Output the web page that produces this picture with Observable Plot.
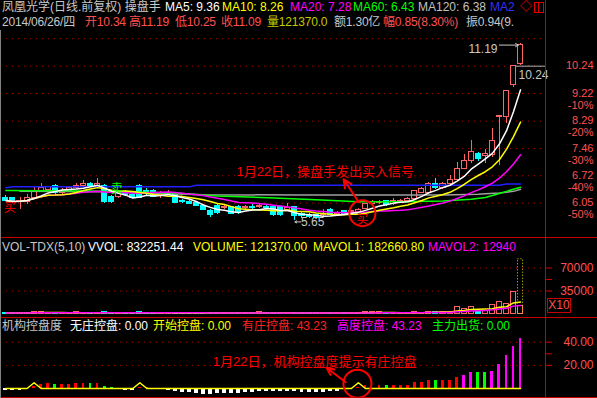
<!DOCTYPE html>
<html><head><meta charset="utf-8">
<script src="https://cdn.jsdelivr.net/npm/d3@7"></script>
<script src="https://cdn.jsdelivr.net/npm/@observablehq/plot@0.6"></script>
<style>
html,body{margin:0;padding:0;background:#000;}
#chart{position:relative;width:597px;height:398px;background:#000;overflow:hidden;font-family:'Liberation Sans','Noto Sans CJK SC',sans-serif;font-size:12px;}
#chart svg{position:absolute;left:0;}
.t{position:absolute;white-space:nowrap;line-height:14px;}
.hl{position:absolute;height:1px;left:0;width:597px;background:#c80000;}
.vl{position:absolute;width:1px;}
</style></head><body><div id="chart"></div><script>
// ---------- data ----------
const opens  = [6.18,6.16,6.08,6.07,6.18,6.35,6.37,6.47,6.28,6.33, 6.40,6.47,6.52,6.45,6.45,6.20,6.20,6.30,6.25,6.45, 6.33,6.35,6.25,6.28,6.25,6.09,6.07,6.05,5.99,5.88, 5.99,5.93,5.95,5.95,5.93,5.97,5.95,5.97,5.97,5.95, 5.90,5.95,5.81,5.79,5.77,5.77,5.90,5.80,5.86,5.84, 5.84,5.92,6.02,6.05,6.09,6.02,6.07,6.09,6.14,6.30, 6.30,6.50,6.40,6.50,6.60,6.91,7.10,7.32,7.25,7.27, 8.42,8.41,9.54,10.34];
const highs  = [6.22,6.18,6.18,6.25,6.42,6.52,6.45,6.50,6.40,6.45, 6.52,6.60,6.55,6.65,6.50,6.22,6.33,6.35,6.30,6.50, 6.40,6.38,6.33,6.35,6.28,6.14,6.11,6.07,6.01,5.90, 6.01,5.99,5.97,5.99,5.99,6.01,6.05,6.01,5.99,5.97, 6.03,5.97,5.84,5.82,5.79,5.90,5.92,5.86,5.88,5.88, 5.93,6.05,6.12,6.11,6.12,6.16,6.14,6.18,6.35,6.42, 6.55,6.65,6.55,6.72,7.06,7.30,7.69,7.35,7.44,8.06, 8.46,9.31,10.24,11.19];
const lows   = [6.09,6.05,5.90,6.01,6.16,6.30,6.33,6.26,6.25,6.30, 6.38,6.45,6.45,6.43,6.05,6.05,6.16,6.20,6.16,6.16, 6.20,6.18,6.16,6.22,6.03,6.03,6.01,5.97,5.88,5.73, 5.79,5.90,5.79,5.79,5.90,5.90,5.93,5.90,5.75,5.75, 5.86,5.65,5.70,5.70,5.70,5.72,5.77,5.76,5.79,5.80, 5.82,5.90,5.99,6.01,5.97,6.00,6.05,6.07,6.12,6.28, 6.28,6.38,6.38,6.48,6.58,6.88,7.05,7.10,7.04,7.22, 6.99,8.22,9.42,10.25];
const closes = [6.11,6.07,6.10,6.16,6.35,6.42,6.43,6.28,6.33,6.42, 6.47,6.52,6.47,6.52,6.07,6.07,6.30,6.23,6.18,6.18, 6.30,6.20,6.28,6.30,6.05,6.07,6.03,5.99,5.90,5.77, 5.82,5.95,5.81,5.82,5.95,5.93,5.99,5.93,5.77,5.77, 5.93,5.75,5.75,5.73,5.71,5.81,5.79,5.83,5.81,5.86, 5.90,6.02,6.07,6.07,6.00,6.09,6.11,6.14,6.33,6.38, 6.52,6.40,6.50,6.60,6.91,7.10,7.35,7.18,7.32,7.67, 8.44,9.31,10.24,11.09];
// volume in axis units (x10 shares)
const volumes = [1500,1400,1600,1800,3800,2400,1800,1600,1500,1800, 2400,1900,1500,2000,2500,1700,1500,1400,1500,3800, 2000,1700,1400,1500,1900,1400,1300,1400,1600,1900, 1500,1400,1700,1500,1300,1400,2400,1400,2000,1600, 1400,1900,1600,1400,1300,1500,1600,1400,1500,1600, 1900,2400,2300,2400,1900,1700,1800,1900,2400,2000, 3800,3800,2400,2600,10500,7200,10800,4600,4963,13000, 17600,15000,33600,12137];
const vvolLast = 83225.144;
// long moving averages (index, value)
const ma60Idx = [0,12,24,30,38,44,50,56,62,66,68,70,71,72,73];
const ma60Val = [6.35,6.34,6.29,6.22,6.17,6.13,6.08,6.08,6.10,6.14,6.18,6.28,6.33,6.38,6.43];
const ma120Idx = [2,14,28,42,62,67,68,70,71,72,73];
const ma120Val = [6.33,6.32,6.25,6.24,6.24,6.26,6.27,6.29,6.31,6.33,6.38];
const ma250Idx = [0,1,26,27,70,71,73];
const ma250Val = [6.42,6.44,6.44,6.48,6.48,6.51,6.51];
// 机构控盘度
const ctrlValues = [-1.5,-1.5,-1.5,0,1.7,3.5,4.0,3.5,3.5,3.5, 4.6,4.6,4.6,4.6,1.7,1.0,0,-1.5,-1.5,0.8, 1.0,0,0,-2.0,-2.6,-3.2,-3.2,-4.6,-5.2,-5.2, -4.6,-4.0,-4.0,-4.0,-3.5,-3.2,-2.6,-2.9,-2.9,-2.6, -2.3,-2.6,-3.5,-3.5,-3.2,-3.5,-2.6,-2.6,-1.0,0, 0.8,2.2,0,3.0,3.0,3.0,3.0,3.0,5.0,5.6, 6.5,6.5,6.5,7.3,9.3,10.8,13.7,13.7,13.7,15.1, 20.9,28.1,35.9,43.23];
const ctrlCodes = "WWW-RRRGRRRRGRGG-WWRR--" + "WWWWWWWWWWWWWWWWWWWWWWWWWW" + "-RR-RGRRRRRRGRRRMMGGMMMMM";
const ctrlNames = {W: "无庄控盘", Y: "开始控盘", R: "有庄控盘", M: "高度控盘", G: "主力出货", "-": ""};
const startLine = [0,0,0,0,5,0,0,0,0,0, 0,0,0,0,0,0,0,0,0,5, 0,0,0,0,0,0,0,0,0,0, 0,0,0,0,0,0,0,0,0,0, 0,0,0,0,0,0,0,0,0,0, 5,0,0,0,0,0,0,0,0,0, 0,0,0,0,0,0,0,0,0,0, 0,0,0,0];
// signals
const buyIdx = [0, 50];
const sellIdx = [16];
// axis ticks / labels
const gridPrices = [11.38,10.24,9.22,8.29,7.46,6.72,6.05];
const priceTicks = [10.24,9.22,8.29,7.46,6.72,6.05];
const pctTicks = [9.22,8.29,7.46,6.72,6.05];
const pctLabels = ["-10%","-20%","-30%","-40%","-50%"];
const volGrid = [35000,70000];
const volTicks = [35000,52500,70000];
const ctrlGrid = [20,40];
const ctrlTicks = [20,30,40];
// texts
const head1 = ["凤凰光学(日线.前复权) 操盘手","MA5: 9.36","MA10: 8.26","MA20: 7.28","MA60: 6.43","MA120: 6.38","MA2"];
const head2 = ["2014/06/26/四","开10.34","高11.19","低10.25","收11.09","量121370.0","额1.30亿","幅0.85(8.30%)","振0.94(9."];
const volHead = ["VOL-TDX(5,10)","VVOL: 832251.44","VOLUME: 121370.00","MAVOL1: 182660.80","MAVOL2: 12940"];
const ctrlHead = ["机构控盘度","无庄控盘: 0.00","开始控盘: 0.00","有庄控盘: 43.23","高度控盘: 43.23","主力出货: 0.00"];
const buyNote = {idx: 50, text: "1月22日，操盘手发出买入信号", textAt: [45.3, 6.81], from: [50.06, 6.07], to: [47.9, 6.63]};
const ctrlNote = {idx: 50, text: "1月22日，机构控盘度提示有庄控盘", textAt: [43.8, 23.3], from: [48.2, 5.4], to: [45.5, 17.9]};

// ---------- styles ----------
const FONT = "'Liberation Sans','Noto Sans CJK SC',sans-serif";
const RED = "#ff6464", CYAN = "#00ffff", GRID = "#b40000", AXIS = "#ff5050", TICK = "#d00000";
const typeColor = {"无庄控盘": "#ffffff", "开始控盘": "#ffff00", "有庄控盘": "#ff0000", "高度控盘": "#ff00ff", "主力出货": "#00ff00"};

const chart = document.getElementById("chart");
const N = closes.length;
const idx = d3.range(N);
const candles = idx.map(i => ({i, open: opens[i], high: highs[i], low: lows[i], close: closes[i], vol: volumes[i]}));
const up = d => d.close >= d.open;
const maOf = (arr, n) => arr.map((_, i) => ({i, v: d3.mean(arr.slice(Math.max(0, i - n + 1), i + 1))}));
const pts = (ix, vs) => ix.map((i, k) => ({i, v: vs[k]}));
const X = {domain: [-0.766, 76.54], axis: null};
const base = {width: 597, marginLeft: 0, marginRight: 52, marginTop: 0, marginBottom: 0, x: X,
  style: {background: "transparent", color: AXIS, fontFamily: FONT, fontSize: "12px", overflow: "visible"}};
const dotted = {stroke: GRID, strokeDasharray: "1,5"};

// ---------- main price panel ----------
const hi = d3.greatest(candles, d => d.high);
const lo = d3.least(candles, d => d.low);
const pctMap = new Map(pctTicks.map((t, k) => [t, pctLabels[k]]));
const mainPlot = Plot.plot({...base, height: 237,
  y: {type: "log", domain: [5.3012, 13.18], axis: null},
  marks: [
    Plot.ruleY(gridPrices, dotted),
    Plot.axisY({ticks: priceTicks, anchor: "right", label: null, tickSize: 0, tickPadding: 48, textAnchor: "end", fontSize: 11, dy: -0.5, tickFormat: d => d.toFixed(2), fill: AXIS}),
    Plot.axisY({ticks: pctTicks, anchor: "right", label: null, tickSize: 0, tickPadding: 48, textAnchor: "end", fontSize: 11, dy: 11.5, tickFormat: d => pctMap.get(d), fill: AXIS}),
    Plot.ruleY([candles[72]], {y: "close", x1: d => d.i + 0.3, x2: X.domain[1], stroke: "#b0b0b0"}),
    Plot.ruleX(candles, {x: "i", y1: "low", y2: "high", stroke: d => up(d) ? RED : CYAN, shapeRendering: "crispEdges"}),
    Plot.rect(candles, {x1: d => d.i - 0.36, x2: d => d.i + 0.36, y1: "open", y2: "close",
      fill: d => up(d) ? "#000" : CYAN, stroke: d => up(d) ? RED : CYAN, shapeRendering: "crispEdges"}),
    Plot.line(pts(ma250Idx, ma250Val), {x: "i", y: "v", stroke: "#2020ff"}),
    Plot.line(pts(ma120Idx, ma120Val), {x: "i", y: "v", stroke: "#a0a0a0"}),
    Plot.line(pts(ma60Idx, ma60Val), {x: "i", y: "v", stroke: "#00ff00"}),
    Plot.line(maOf(closes, 20), {x: "i", y: "v", stroke: "#ff00ff"}),
    Plot.line(maOf(closes, 10), {x: "i", y: "v", stroke: "#ffff00"}),
    Plot.line(maOf(closes, 5), {x: "i", y: "v", stroke: "#ffffff"}),
    // high / low / last labels
    Plot.text([hi], {x: "i", y: "high", text: d => d.high.toFixed(2), textAnchor: "end", dx: -23, dy: 6, fill: "#c8c8c8"}),
    Plot.arrow([hi], {x1: d => d.i - 3, x2: d => d.i - 0.3, y1: "high", y2: "high", dy: 2, stroke: "#c8c8c8", headLength: 5, strokeWidth: 1}),
    Plot.text([candles[72]], {x: "i", y: "close", text: d => d.close.toFixed(2), textAnchor: "start", dx: 5, dy: 9, fill: "#c8c8c8"}),
    Plot.text([lo], {x: "i", y: "low", text: d => d.low.toFixed(2), textAnchor: "start", dx: 6, dy: 1, fill: "#c8c8c8"}),
    Plot.arrow([lo], {x1: d => d.i + 0.85, x2: "i", y1: "low", y2: "low", dy: 1, stroke: "#c8c8c8", headLength: 4, strokeWidth: 1}),
    // signals
    Plot.text(buyIdx.map(i => candles[i]), {x: "i", y: "low", text: () => "买", dx: 4, dy: 6.5, fill: "#ff0000"}),
    Plot.text(sellIdx.map(i => candles[i]), {x: "i", y: "high", text: () => "卖", dx: -2, dy: -2, fill: "#00ff00"}),
    Plot.dot([candles[buyNote.idx]], {x: "i", y: "low", dx: 4, r: 13, stroke: "#ff0000", strokeWidth: 2, fill: "none"}),
    Plot.arrow([buyNote], {x1: d => d.from[0], y1: d => d.from[1], x2: d => d.to[0], y2: d => d.to[1], stroke: "#ff0000", strokeWidth: 2, headLength: 9, headAngle: 50}),
    Plot.text([buyNote], {x: d => d.textAt[0], y: d => d.textAt[1], text: "text", fill: "#ff0000", fontSize: 13})
  ]});
mainPlot.style.top = "0px";
chart.appendChild(mainPlot);

// ---------- volume panel ----------
const volPlot = Plot.plot({...base, height: 79, marginBottom: 3.5,
  y: {domain: [0, 114891], axis: null},
  marks: [
    Plot.ruleY(volGrid, dotted),
    Plot.axisY({ticks: volTicks, anchor: "right", label: null, tickSize: 6, tickPadding: 42, textAnchor: "end", stroke: TICK, fill: AXIS,
      tickFormat: d => volGrid.includes(d) ? String(d) : ""}),
    Plot.rect(candles, {x1: d => d.i - 0.36, x2: d => d.i + 0.36, y1: 0, y2: "vol",
      fill: d => up(d) ? "#000" : CYAN, stroke: d => up(d) ? RED : CYAN, shapeRendering: "crispEdges"}),
    Plot.rect([{i: N - 1, v: vvolLast}], {x1: d => d.i - 0.36, x2: d => d.i + 0.36, y1: 0, y2: "v", fill: "none", stroke: "#e0e000", strokeDasharray: "1,2"}),
    Plot.line(maOf(volumes, 5), {x: "i", y: "v", stroke: "#ffff00"}),
    Plot.line(maOf(volumes, 10), {x: "i", y: "v", stroke: "#ff00ff"})
  ]});
volPlot.style.top = "238px";
chart.appendChild(volPlot);

// ---------- 机构控盘度 panel ----------
const ctrlData = idx.map(i => ({i, v: ctrlValues[i], t: ctrlNames[ctrlCodes[i]]})).filter(d => d.v !== 0);
const ctrlPlot = Plot.plot({...base, height: 79,
  y: {domain: [-7.78, 60.48], axis: null},
  marks: [
    Plot.ruleY(ctrlGrid, dotted),
    Plot.axisY({ticks: ctrlTicks, anchor: "right", label: null, tickSize: 6, tickPadding: 42, textAnchor: "end", stroke: TICK, fill: AXIS,
      tickFormat: d => ctrlGrid.includes(d) ? d.toFixed(2) : ""}),
    Plot.rect(ctrlData, {x1: d => d.i - (d.v < 0 ? 0.28 : 0.2), x2: d => d.i + (d.v < 0 ? 0.28 : 0.2), y1: 0, y2: "v",
      fill: d => typeColor[d.t], shapeRendering: "crispEdges"}),
    Plot.line(idx.map(i => ({i, v: startLine[i]})), {x: "i", y: "v", stroke: "#ffff00"}),
    Plot.dot([{i: ctrlNote.idx, v: startLine[ctrlNote.idx]}], {x: "i", y: "v", dx: -1, dy: 1, r: 14, stroke: "#ff0000", strokeWidth: 2, fill: "none"}),
    Plot.arrow([ctrlNote], {x1: d => d.from[0], y1: d => d.from[1], x2: d => d.to[0], y2: d => d.to[1], stroke: "#ff0000", strokeWidth: 2, headLength: 9, headAngle: 50}),
    Plot.text([ctrlNote], {x: d => d.textAt[0], y: d => d.textAt[1], text: "text", fill: "#ff0000", fontSize: 13})
  ]});
ctrlPlot.style.top = "318px";
chart.appendChild(ctrlPlot);

// ---------- frame lines & header texts ----------
function div(cls, css, text) {
  const e = document.createElement("div");
  e.className = cls; Object.assign(e.style, css);
  if (text !== undefined) e.textContent = text;
  chart.appendChild(e); return e;
}
[237, 317, 397].forEach(y => div("hl", {top: y + "px"}));
div("vl", {left: "545px", top: "0px", height: "398px", background: "#c80000"});
div("vl", {left: "0px", top: "30px", height: "368px", background: "#808080"});

const layout1 = [[2, "#c8c8c8"], [165, "#ffffff"], [222, "#ffff00"], [290, "#ff00ff"], [353, "#00ff00"], [418, "#c0c0c0"], [490, "#3030ff"]];
head1.forEach((s, k) => div("t", {left: layout1[k][0] + "px", top: "0px", color: layout1[k][1]}, s));
const layout2 = [[2, "#c8c8c8"], [85, "#ff5050"], [129, "#ff5050"], [175, "#ff5050"], [221, "#ff5050"], [267, "#c8c800"], [334, "#c8c8c8"], [383, "#ff5050"], [466, "#c8c8c8"]];
head2.forEach((s, k) => div("t", {left: layout2[k][0] + "px", top: "15px", color: layout2[k][1], letterSpacing: "-0.2px"}, s));
const layoutV = [[2, "#c8c8c8"], [88, "#ffffff"], [193, "#ffff00"], [313, "#ffff00"], [428, "#ff00ff"]];
volHead.forEach((s, k) => div("t", {left: layoutV[k][0] + "px", top: "240px", color: layoutV[k][1]}, s));
const layoutC = [[2, "#c8c8c8"], [70, "#ffffff"], [153, "#ffff00"], [242, "#ff2020"], [337, "#ff00ff"], [432, "#00ff00"]];
ctrlHead.forEach((s, k) => div("t", {left: layoutC[k][0] + "px", top: "319px", color: layoutC[k][1]}, s));
// icons and X10 box
div("t", {left: "520px", top: "0px", color: "#ff0000"}, "◇");
div("t", {left: "534px", top: "2px", width: "8px", height: "9px", border: "1px solid #e00000"});
div("t", {left: "538px", top: "2px", width: "1px", height: "10px", background: "#e00000"});
div("t", {left: "547px", top: "298px", width: "22px", height: "13px", lineHeight: "13px", border: "1px solid #c80000", color: "#ff5050", textAlign: "center"}, "X10");
</script></body></html>
